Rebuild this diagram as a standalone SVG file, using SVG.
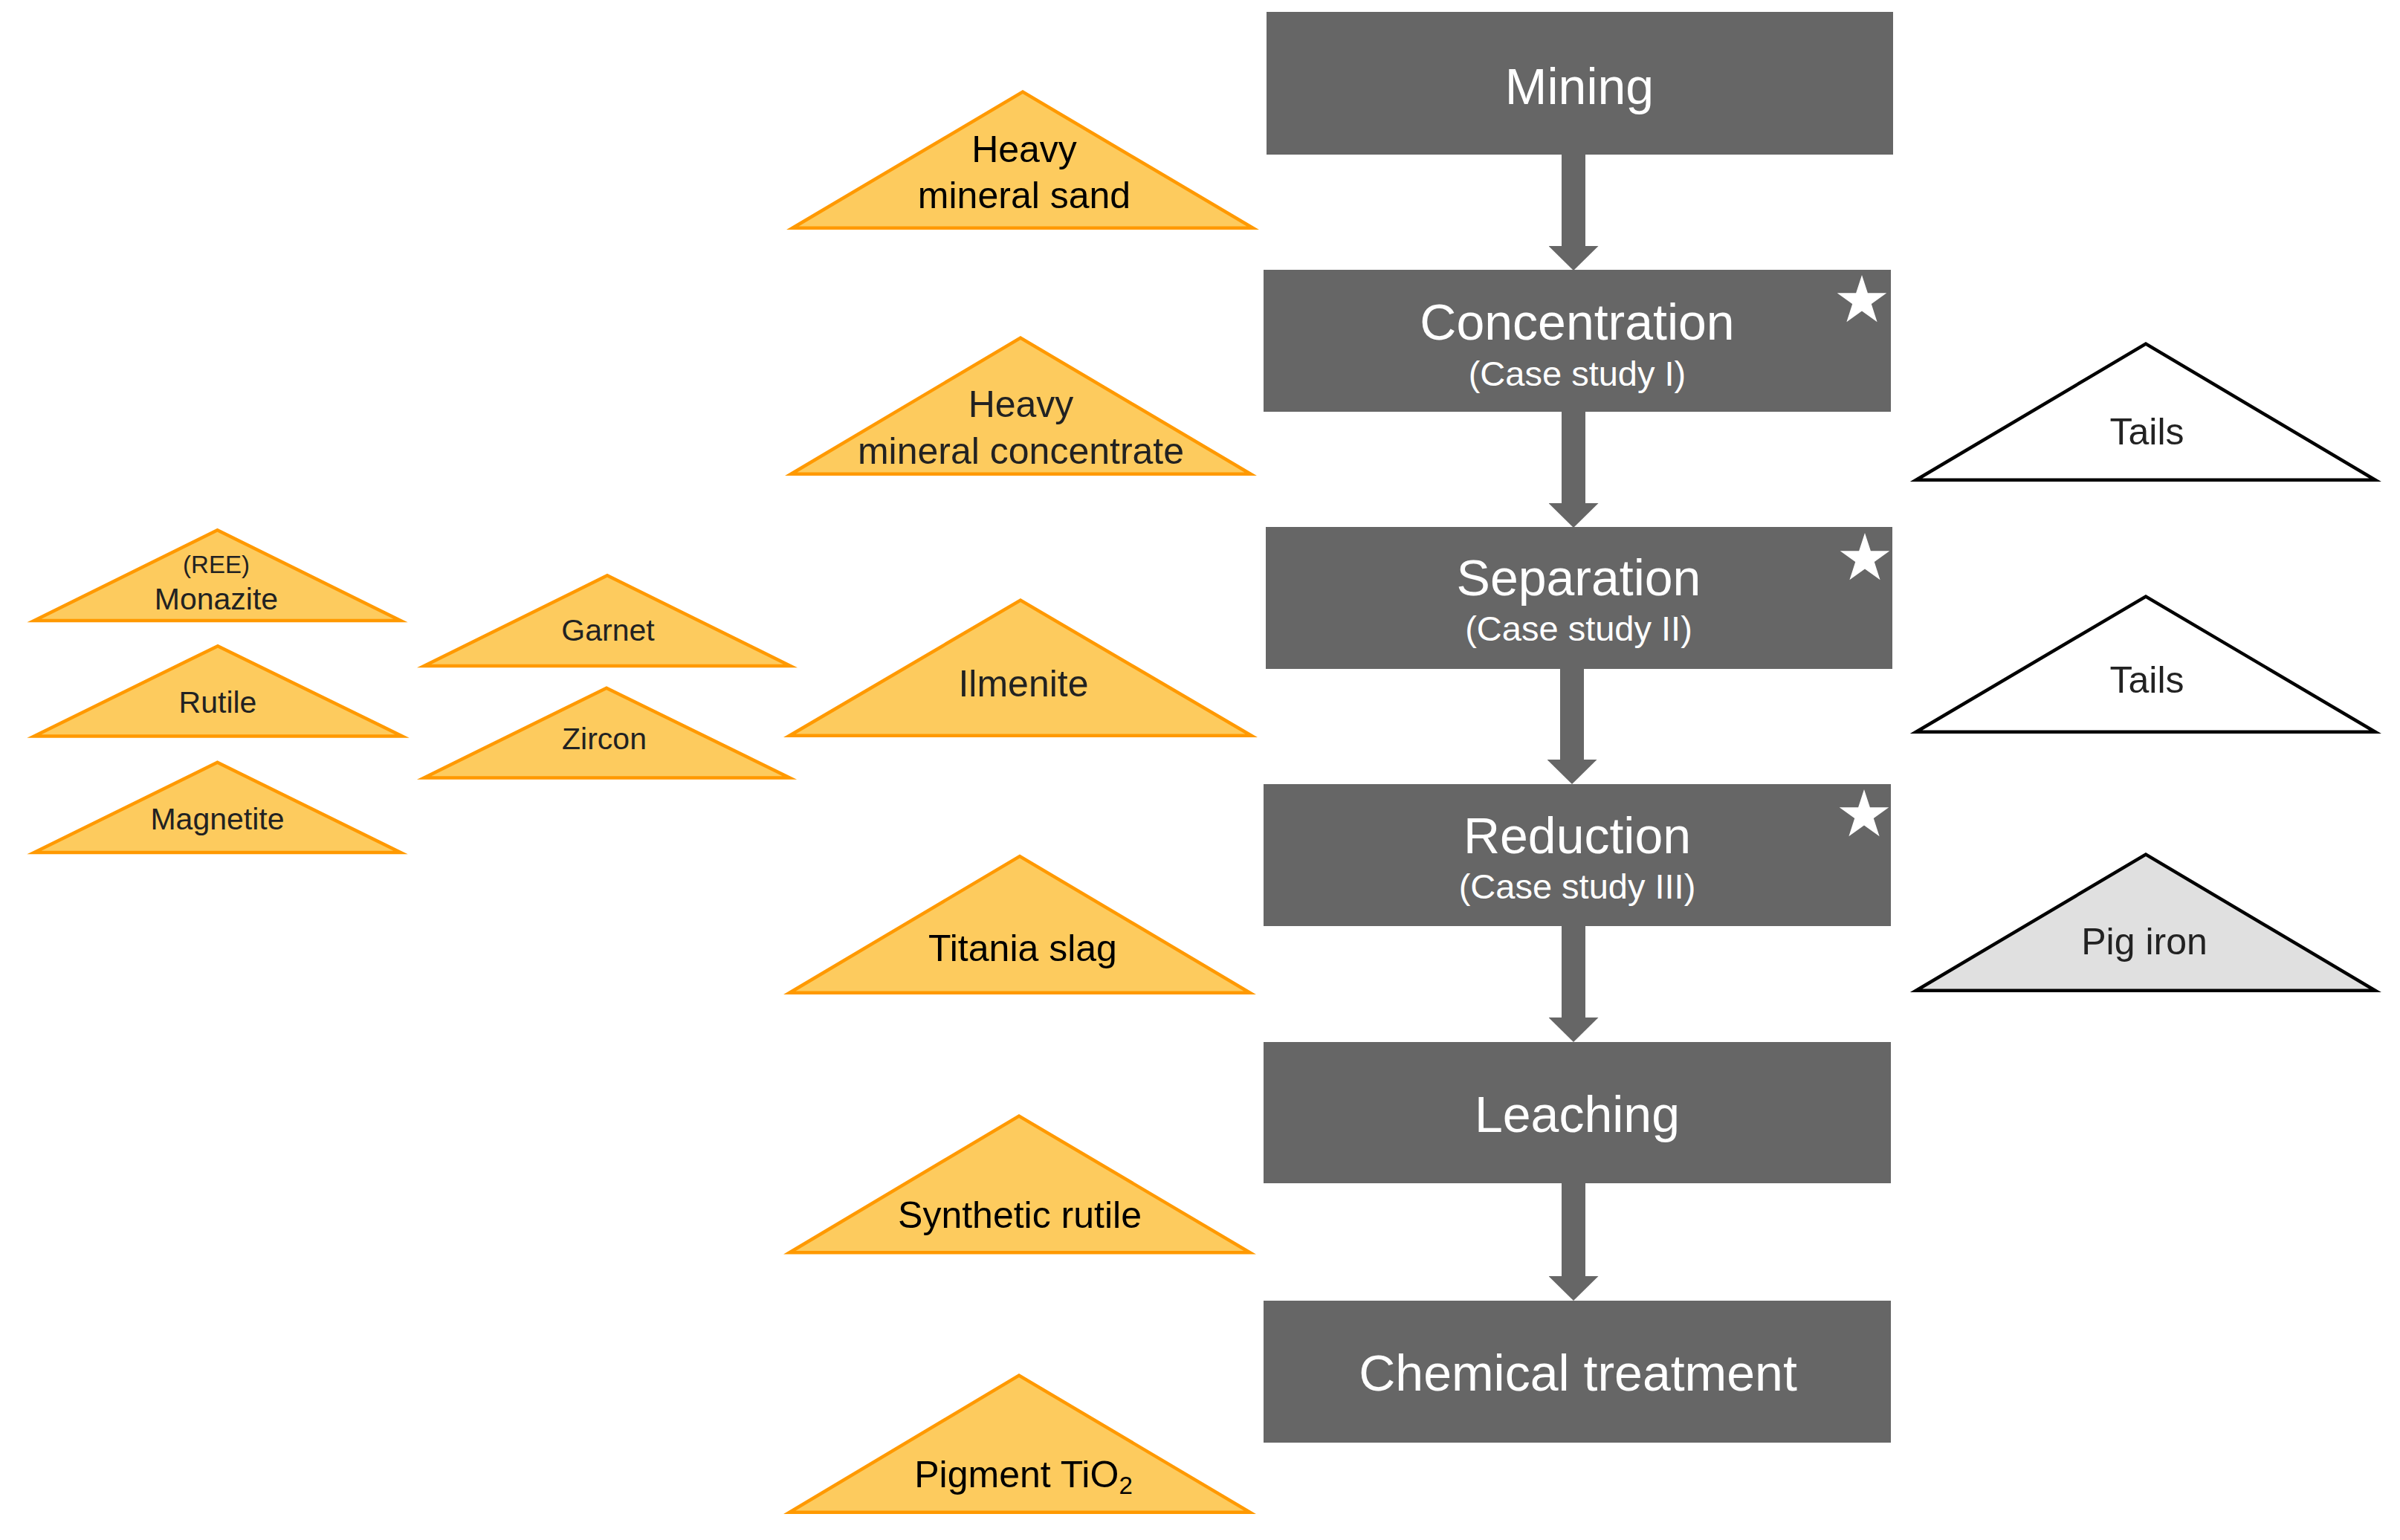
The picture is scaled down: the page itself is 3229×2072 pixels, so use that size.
<svg xmlns="http://www.w3.org/2000/svg" width="3229" height="2072" viewBox="0 0 3229 2072">
<style>
  text { font-family: "Liberation Sans", Arial, sans-serif; text-anchor: middle; }
  .box { fill: #666666; }
  .bt { fill: #ffffff; font-size: 68px; }
  .bs { fill: #ffffff; font-size: 47px; }
  .star { fill: #ffffff; }
  .ot { fill: #FDCB5E; stroke: #FF9900; stroke-width: 4.5; stroke-linejoin: miter; stroke-miterlimit: 10; }
  .wt { fill: #ffffff; stroke: #000000; stroke-width: 4.5; stroke-linejoin: miter; stroke-miterlimit: 10; }
  .gt { fill: #E0E0E0; stroke: #000000; stroke-width: 4.5; stroke-linejoin: miter; stroke-miterlimit: 10; }
  .lt { fill: #000000; font-size: 50px; }
  .dt { fill: #222222; font-size: 50px; }
  .st { fill: #222222; font-size: 41px; }
  .ree { fill: #222222; font-size: 33px; }
  .conn { stroke: #666666; stroke-width: 32; fill: none; }
</style>
<defs>
  <marker id="head" markerUnits="userSpaceOnUse" viewBox="0 0 33 67" markerWidth="33" markerHeight="67" refX="0" refY="33.5" orient="auto">
    <path d="M0,0 L33,33.5 L0,67 Z" fill="#666666"/>
  </marker>
  <polygon id="starshape" points="0,-35 7.9,-10.8 33.3,-10.8 12.8,4.1 20.6,28.3 0,13.4 -20.6,28.3 -12.8,4.1 -33.3,-10.8 -7.9,-10.8"/>
</defs>

<g id="connectors">
  <line class="conn" x1="2117" y1="208" x2="2117" y2="331" marker-end="url(#head)"/>
  <line class="conn" x1="2117" y1="554" x2="2117" y2="677" marker-end="url(#head)"/>
  <line class="conn" x1="2115" y1="900" x2="2115" y2="1022" marker-end="url(#head)"/>
  <line class="conn" x1="2117" y1="1246" x2="2117" y2="1369" marker-end="url(#head)"/>
  <line class="conn" x1="2117" y1="1592" x2="2117" y2="1717" marker-end="url(#head)"/>
</g>

<g id="mining">
  <rect class="box" x="1704" y="16" width="843" height="192"/>
  <text class="bt" x="2125" y="140">Mining</text>
</g>
<g id="concentration">
  <rect class="box" x="1700" y="363" width="844" height="191"/>
  <text class="bt" x="2122" y="457">Concentration</text>
  <text class="bs" x="2122" y="519">(Case study I)</text>
  <use href="#starshape" class="star" x="2505" y="405"/>
</g>
<g id="separation">
  <rect class="box" x="1703" y="709" width="843" height="191"/>
  <text class="bt" x="2124" y="801">Separation</text>
  <text class="bs" x="2124" y="862">(Case study II)</text>
  <use href="#starshape" class="star" x="2509" y="752"/>
</g>
<g id="reduction">
  <rect class="box" x="1700" y="1055" width="844" height="191"/>
  <text class="bt" x="2122" y="1148">Reduction</text>
  <text class="bs" x="2122" y="1209">(Case study III)</text>
  <use href="#starshape" class="star" x="2508" y="1097"/>
</g>
<g id="leaching">
  <rect class="box" x="1700" y="1402" width="844" height="190"/>
  <text class="bt" x="2122" y="1523">Leaching</text>
</g>
<g id="chemical-treatment">
  <rect class="box" x="1700" y="1750" width="844" height="191"/>
  <text class="bt" x="2123" y="1871">Chemical treatment</text>
</g>

<g id="heavy-mineral-sand">
  <polygon class="ot" points="1066.3,306.7 1376,123.6 1685.7,306.7"/>
  <text class="lt" x="1378" y="217.5">Heavy</text>
  <text class="lt" x="1378" y="280">mineral sand</text>
</g>
<g id="heavy-mineral-concentrate">
  <polygon class="ot" points="1064.3,637.7 1373,454.6 1682.7,637.7"/>
  <text class="dt" x="1373.5" y="561">Heavy</text>
  <text class="dt" x="1373.5" y="624">mineral concentrate</text>
</g>
<g id="ilmenite">
  <polygon class="ot" points="1062.3,989.7 1373,807.6 1683.7,989.7"/>
  <text class="dt" x="1377" y="936.7">Ilmenite</text>
</g>
<g id="titania-slag">
  <polygon class="ot" points="1062.3,1335.7 1372,1152 1681.7,1335.7"/>
  <text class="lt" x="1376" y="1293">Titania slag</text>
</g>
<g id="synthetic-rutile">
  <polygon class="ot" points="1062.3,1685.2 1371,1501.6 1681.7,1685.2"/>
  <text class="lt" x="1372" y="1652">Synthetic rutile</text>
</g>
<g id="pigment-tio2">
  <polygon class="ot" points="1062.3,2034.7 1371,1850.6 1681.7,2034.7"/>
  <text class="lt" x="1377" y="2000.7">Pigment TiO<tspan font-size="33" dy="9">2</tspan></text>
</g>

<g id="monazite">
  <polygon class="ot" points="46,835 292.5,713.2 539,835"/>
  <text class="ree" x="291" y="770.7">(REE)</text>
  <text class="st" x="291" y="820">Monazite</text>
</g>
<g id="rutile">
  <polygon class="ot" points="46,990.4 293,869.2 541,990.4"/>
  <text class="st" x="293" y="958.7">Rutile</text>
</g>
<g id="magnetite">
  <polygon class="ot" points="46,1147 292.5,1025.8 539,1147"/>
  <text class="st" x="292.5" y="1116">Magnetite</text>
</g>
<g id="garnet">
  <polygon class="ot" points="570.6,896 817,774.2 1063.4,896"/>
  <text class="st" x="818" y="861.7">Garnet</text>
</g>
<g id="zircon">
  <polygon class="ot" points="570.6,1046.4 816,925.8 1062.4,1046.4"/>
  <text class="st" x="813" y="1008.3">Zircon</text>
</g>

<g id="tails-1">
  <polygon class="wt" points="2578,645.7 2887,462.6 3195.7,645.7"/>
  <text class="dt" x="2888.5" y="597.6">Tails</text>
</g>
<g id="tails-2">
  <polygon class="wt" points="2578,984.7 2887,802.6 3195.7,984.7"/>
  <text class="dt" x="2888.5" y="932">Tails</text>
</g>
<g id="pig-iron">
  <polygon class="gt" points="2578,1332.7 2887,1149.6 3195.7,1332.7"/>
  <text class="dt" x="2885" y="1283.6">Pig iron</text>
</g>
</svg>
